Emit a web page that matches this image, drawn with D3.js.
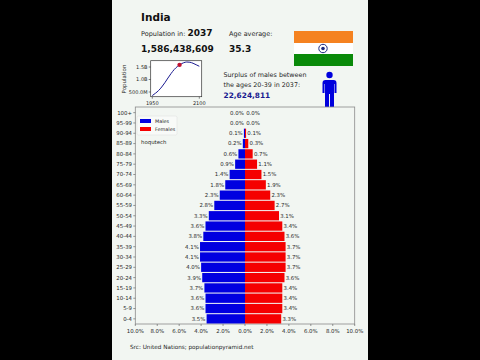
<!DOCTYPE html>
<html><head><meta charset="utf-8">
<script src="https://cdn.jsdelivr.net/npm/d3@7"></script>
<style>
html,body{margin:0;padding:0;background:#000;overflow:hidden}
svg{display:block;opacity:.999}
text{font-family:"DejaVu Sans",sans-serif;fill:#262626}
</style></head><body><svg id="c" width="480" height="360"></svg>
<script>
const ageGroups=["100+","95-99","90-94","85-89","80-84","75-79","70-74","65-69","60-64","55-59","50-54","45-49","40-44","35-39","30-34","25-29","20-24","15-19","10-14","5-9","0-4"];
const males=[0.0,0.0,0.1,0.2,0.6,0.9,1.4,1.8,2.3,2.8,3.3,3.6,3.8,4.1,4.1,4.0,3.9,3.7,3.6,3.6,3.5];
const females=[0.0,0.0,0.1,0.3,0.7,1.1,1.5,1.9,2.3,2.7,3.1,3.4,3.6,3.7,3.7,3.7,3.6,3.4,3.4,3.4,3.3];
const pctTicks=[-10,-8,-6,-4,-2,0,2,4,6,8,10];
const popYears=[1950,1960,1970,1980,1990,2000,2010,2020,2030,2037,2050,2060,2070,2080,2090,2100];
const popValues=[0.357,0.45,0.557,0.7,0.87,1.06,1.24,1.40,1.52,1.586,1.67,1.70,1.69,1.65,1.59,1.53];
const popTicks=[[0.5,"500.0M"],[1.0,"1.0B"],[1.5,"1.5B"]];
const yearTicks=[1950,2100];
const currentYear=2037, currentPop=1.586;

const svg=d3.select("#c");
const txt=(x,y,s,size,opt={})=>svg.append("text").attr("x",x).attr("y",y).attr("font-size",size)
  .attr("font-weight",opt.w||"normal").attr("text-anchor",opt.a||"start").style("fill",opt.f||"#262626").text(s);

svg.append("rect").attr("x",112).attr("y",0).attr("width",256).attr("height",360).attr("fill","#f2f6f2");

txt(141,21,"India",10.5,{w:"bold",f:"#111"});
txt(141,36,"Population in:",6.5);
txt(187.5,36,"2037",9,{w:"bold",f:"#111"});
txt(141,52,"1,586,438,609",9,{w:"bold",f:"#111"});
txt(229,36,"Age average:",6.5);
txt(229,52,"35.3",9,{w:"bold",f:"#111"});

// flag
const fx=294,fw=59;
svg.append("rect").attr("x",fx).attr("y",31).attr("width",fw).attr("height",12).attr("fill","#f58220");
svg.append("rect").attr("x",fx).attr("y",43).attr("width",fw).attr("height",11).attr("fill","#fff");
svg.append("rect").attr("x",fx).attr("y",54).attr("width",fw).attr("height",12).attr("fill","#0a8a0a");
svg.append("circle").attr("cx",323).attr("cy",48.5).attr("r",4.2).attr("fill","#fff").attr("stroke","#1c2a80").attr("stroke-width",1);
svg.append("circle").attr("cx",323).attr("cy",48.5).attr("r",1.8).attr("fill","#1c2a80");

// small population chart
const sx=d3.scaleLinear().domain([1950,2100]).range([152.3,199.3]);
const sy=d3.scaleLinear().domain([0.5,1.5]).range([92,67]);
svg.append("rect").attr("x",150.7).attr("y",60.7).attr("width",51).attr("height",36).attr("fill","#fff").attr("stroke","#333").attr("stroke-width",.7);
svg.append("path").datum(popYears.map((y,i)=>[y,popValues[i]]))
  .attr("fill","none").attr("stroke","#1a1a90").attr("stroke-width",1)
  .attr("d",d3.line().x(d=>sx(d[0])).y(d=>sy(d[1])).curve(d3.curveMonotoneX));
svg.append("circle").attr("cx",sx(currentYear)).attr("cy",sy(currentPop)).attr("r",2.2).attr("fill","#c01030");
popTicks.forEach(([v,l])=>{
  svg.append("line").attr("x1",148.7).attr("x2",150.7).attr("y1",sy(v)).attr("y2",sy(v)).attr("stroke","#333").attr("stroke-width",.6);
  txt(147.5,sy(v)+1.8,l,5,{a:"end"});
});
yearTicks.forEach(y=>{
  svg.append("line").attr("x1",sx(y)).attr("x2",sx(y)).attr("y1",96.7).attr("y2",98.7).attr("stroke","#333").attr("stroke-width",.6);
  txt(sx(y),105,y,5,{a:"middle"});
});
svg.append("text").attr("transform","translate(126,79) rotate(-90)").attr("text-anchor","middle").attr("font-size",5.5).text("Population");

// surplus text
txt(223.5,76.5,"Surplus of males between",6.4);
txt(223.5,87,"the ages 20-39 in 2037:",6.4);
txt(223.5,98,"22,624,811",7.4,{w:"bold",f:"#1a1a90"});

// person icon
svg.append("circle").attr("cx",329.5).attr("cy",75).attr("r",3.2).attr("fill","#0000dd");
svg.append("path").attr("fill","#0000dd")
  .attr("d","M325.5 80 H333.5 Q336.5 80 336.5 83 V93 H334.5 V84 H334 V108 H330 V94 H329 V108 H325 V84 H324.5 V93 H322.5 V83 Q322.5 80 325.5 80 Z");

// pyramid
const x=d3.scaleLinear().domain([-10,10]).range([135.3,354.7]);
const y=d3.scaleBand().domain(ageGroups).range([107.5,324]).paddingInner(0.1).paddingOuter(0.05);
svg.append("rect").attr("x",135.3).attr("y",107).attr("width",219.4).attr("height",217).attr("fill","#f2f6f2").attr("stroke","#8a8a8a").attr("stroke-width",.8);
svg.append("g").selectAll("rect").data(ageGroups).join("rect")
  .attr("x",(d,i)=>x(-males[i])).attr("y",d=>y(d)).attr("height",y.bandwidth())
  .attr("width",(d,i)=>x(0)-x(-males[i])).attr("fill","#0000e0");
svg.append("g").selectAll("rect").data(ageGroups).join("rect")
  .attr("x",x(0)).attr("y",d=>y(d)).attr("height",y.bandwidth())
  .attr("width",(d,i)=>x(females[i])-x(0)).attr("fill","#f50000");
ageGroups.forEach((a,i)=>{
  const cy=y(a)+y.bandwidth()/2+1.9;
  txt(x(-males[i])-1.2,cy,males[i].toFixed(1)+"%",5.4,{a:"end"});
  txt(x(females[i])+1.2,cy,females[i].toFixed(1)+"%",5.4);
  svg.append("line").attr("x1",133.3).attr("x2",135.3).attr("y1",cy-1.9).attr("y2",cy-1.9).attr("stroke","#555").attr("stroke-width",.6);
  txt(132,cy,a,5.4,{a:"end"});
});
pctTicks.forEach(t=>{
  svg.append("line").attr("x1",x(t)).attr("x2",x(t)).attr("y1",324).attr("y2",326).attr("stroke","#555").attr("stroke-width",.6);
  txt(x(t),332.5,Math.abs(t).toFixed(1)+"%",5.4,{a:"middle"});
});

// legend
svg.append("rect").attr("x",137).attr("y",116).attr("width",40).attr("height",19).attr("rx",1.5).attr("fill","#f8faf8").attr("stroke","#ddd").attr("stroke-width",.5);
svg.append("rect").attr("x",140).attr("y",119).attr("width",11).attr("height",4).attr("fill","#0000e0");
svg.append("rect").attr("x",140).attr("y",127).attr("width",11).attr("height",4).attr("fill","#f50000");
txt(155,123,"Males",4.9);
txt(155,131,"Females",4.9);
txt(141,144,"hoqutech",5.4);

// footer
txt(130,349,"Src: United Nations; populationpyramid.net",5.7);
</script></body></html>
